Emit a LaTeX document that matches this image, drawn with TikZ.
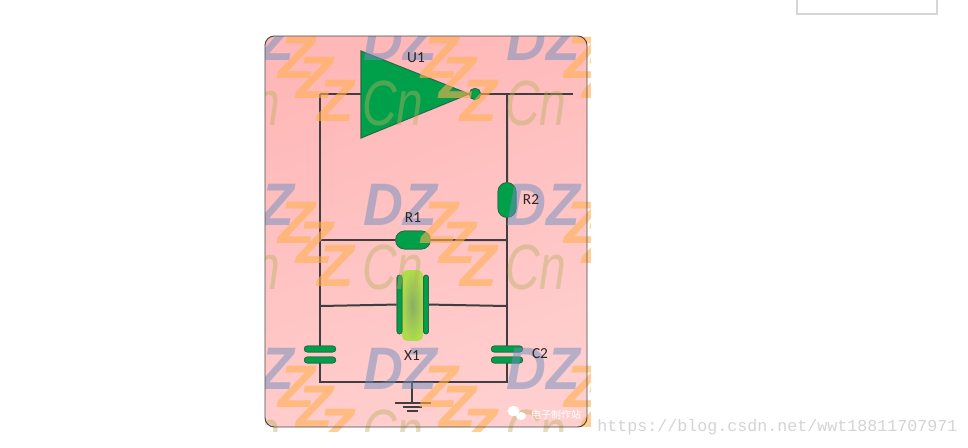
\documentclass[tikz,border=0pt]{standalone}
\usepackage{fontspec}
\setmainfont{Liberation Sans}
\newfontfamily\labelfont{Carlito}
\newfontfamily\cjkfont{Noto Sans CJK SC}
\newfontfamily\urlfont{Liberation Mono}
\usetikzlibrary{shapes.misc}
\definecolor{wire}{HTML}{3F3F3F}
\definecolor{partgreen}{HTML}{00A04A}
\definecolor{partedge}{HTML}{2A6B45}
\definecolor{wmblue}{HTML}{6F8FC0}
\definecolor{wmorange}{HTML}{FFB050}
\definecolor{wmtan}{HTML}{B8B060}
\tikzset{
  x=0.75pt,y=-0.75pt,
  wirestyle/.style={draw=wire,line width=1.5pt},
  partstyle/.style={fill=partgreen,draw=partedge,line width=0.6pt,inner sep=0pt,minimum width=#1},
  resh/.style={rounded rectangle,partstyle=26pt,minimum height=13.5pt},
  resv/.style={rounded rectangle,rotate=90,partstyle=26pt,minimum height=13.5pt},
  capplate/.style={rounded rectangle,partstyle=23.5pt,minimum height=4.5pt},
  xplate/.style={rounded rectangle,rotate=90,partstyle=44pt,minimum height=3.6pt},
  lbl/.style={inner sep=0pt,font=\labelfont\fontsize{11.5}{12}\selectfont,text=black!85},
  wmdz/.style={inner sep=0pt,text=wmblue,text opacity=.5,xscale=.92,font=\bfseries\itshape\fontsize{45}{45}\selectfont},
  wmz/.style={inner sep=0pt,text=wmorange,text opacity=.6,font=\bfseries\itshape\fontsize{45}{45}\selectfont},
  wmcn/.style={inner sep=0pt,text=wmtan,text opacity=.42,xscale=.75,font=\itshape\fontsize{48}{48}\selectfont},
}
\begin{document}
\begin{tikzpicture}
\useasboundingbox (0,0) rectangle (968,447);
\fill[white] (0,0) rectangle (968,447);
% top-right box
\draw[draw=black!16,line width=0.8pt] (797,-2) -- (797,14) -- (937,14) -- (937,-2);
% card
\shade[rounded corners=7pt,left color=red!28!white,right color=red!19!white,shading angle=20] (265,36) rectangle (587,427);

% circuit
\coordinate (triA) at (361,51);
\coordinate (triB) at (361,138);
\coordinate (triC) at (469,94);
\coordinate (inEnd) at (320,94);
\coordinate (outEnd) at (573,94);
\coordinate (topR) at (507,94);
\coordinate (midL) at (320,240);
\coordinate (midR) at (507,240);
\coordinate (xL) at (320,306);
\coordinate (xR) at (507,306);
\coordinate (botL) at (320,382);
\coordinate (botR) at (507,382);
\coordinate (botM) at (412,382);
\coordinate (gnd1L) at (395,403);
\coordinate (gnd1R) at (431,403);
\coordinate (gnd1M) at (412,403);
\coordinate (gnd2L) at (403,407);
\coordinate (gnd2R) at (422,407);
\coordinate (gnd3L) at (407,411);
\coordinate (gnd3R) at (418,411);
\coordinate (inTri) at (361,94);

\node[circle,fill=partgreen,draw=partedge,line width=0.6pt,minimum size=8.5pt,inner sep=0pt] (bubble) at (475,94) {};
\node[resv] (R2) at (507,200) {};
\node[resh] (R1) at (413,240) {};
\node[capplate] (C1a) at (320,349) {};
\node[capplate] (C1b) at (320,360) {};
\node[capplate] (C2a) at (507,349) {};
\node[capplate] (C2b) at (507,360) {};

% crystal body
\node[rounded corners=4pt,minimum width=16pt,minimum height=53pt,inner sep=0pt,
      inner color=black!35!green!55!white!85!red,outer color=green!55!black!45!yellow!70!white] (X1body) at (412.5,305.5) {};
\node[xplate] (X1a) at (399.5,304.5) {};
\node[xplate] (X1b) at (426,304.5) {};

\begin{scope}[on background layer/.try]
\end{scope}
\draw[wirestyle] (inEnd) -- (inTri);
\draw[wirestyle] (bubble) -- (outEnd);
\draw[wirestyle] (topR) -- (R2);
\draw[wirestyle] (R2) -- (midR);
\draw[wirestyle] (inEnd) -- (midL) -- (xL) -- (C1a);
\draw[wirestyle] (midL) -- (R1);
\draw[wirestyle] (R1) -- (midR);
\draw[wirestyle] (midR) -- (xR) -- (C2a);
\draw[wirestyle] (xL) -- (X1a);
\draw[wirestyle] (X1b) -- (xR);
\draw[wirestyle] (C1b) -- (botL) -- (botR) -- (C2b);
\draw[wirestyle] (botM) -- (gnd1M);
\draw[draw=wire,line width=1pt] (gnd1L) -- (gnd1R);
\draw[draw=wire,line width=1pt] (gnd2L) -- (gnd2R);
\draw[draw=wire,line width=1pt] (gnd3L) -- (gnd3R);
% redraw parts over wires
\node[resv] at (R2) {};
\node[resh] at (R1) {};
\node[capplate] at (C1a) {};\node[capplate] at (C1b) {};
\node[capplate] at (C2a) {};\node[capplate] at (C2b) {};
\node[xplate] at (X1a) {};\node[xplate] at (X1b) {};
\fill[partgreen,draw=partedge,line width=0.8pt,line join=miter] (triA) -- (triC) -- (triB) -- cycle;
\node[circle,fill=partgreen,draw=partedge,line width=0.6pt,minimum size=8.5pt,inner sep=0pt] at (bubble) {};

% watermark over everything, faint
\begin{scope}
\clip (265,36) rectangle (590,431);
\foreach \r in {0,1,2}{
  \pgfmathsetmacro{\yy}{40+164.5*\r}
  \foreach \c in {0,1,2}{
    \pgfmathsetmacro{\xx}{257+143*\c}
    \node[wmdz] (dz\r\c) at (\xx,\yy) {DZ};
    \node[wmz] (za\r\c) at (\xx+40,\yy+18) {Z};
    \node[wmz] (zb\r\c) at (\xx+58,\yy+38) {Z};
    \node[wmz] (zc\r\c) at (\xx+79,\yy+61) {Z};
    \node[wmcn] (cn\r\c) at (\xx-7,\yy+63) {Cn};
  }
}
\end{scope}
\draw[draw=black!72,line width=0.7pt,rounded corners=7pt] (265,36) rectangle (587,427);

% labels
\node[lbl] (lU1) at (416,58) {U1};
\node[lbl] (lR2) at (531,200) {R2};
\node[lbl] (lR1) at (413,218) {R1};
\node[lbl] (lX1) at (412,356) {X1};
\node[lbl] (lC2) at (540,354) {C2};

% signature
\fill[white] (513.5,411) ellipse (6 and 5);
\fill[white] (521,416) ellipse (5 and 4);
\node[inner sep=0pt,text=white,font=\cjkfont\fontsize{7.5}{8}\selectfont] (sig) at (556,415) {电子制作站};
\node[inner sep=0pt,text=black!17,anchor=west,font=\urlfont\fontsize{12.5}{13}\selectfont] (url) at (597,427) {https://blog.csdn.net/wwt18811707971};
\end{tikzpicture}
\end{document}
